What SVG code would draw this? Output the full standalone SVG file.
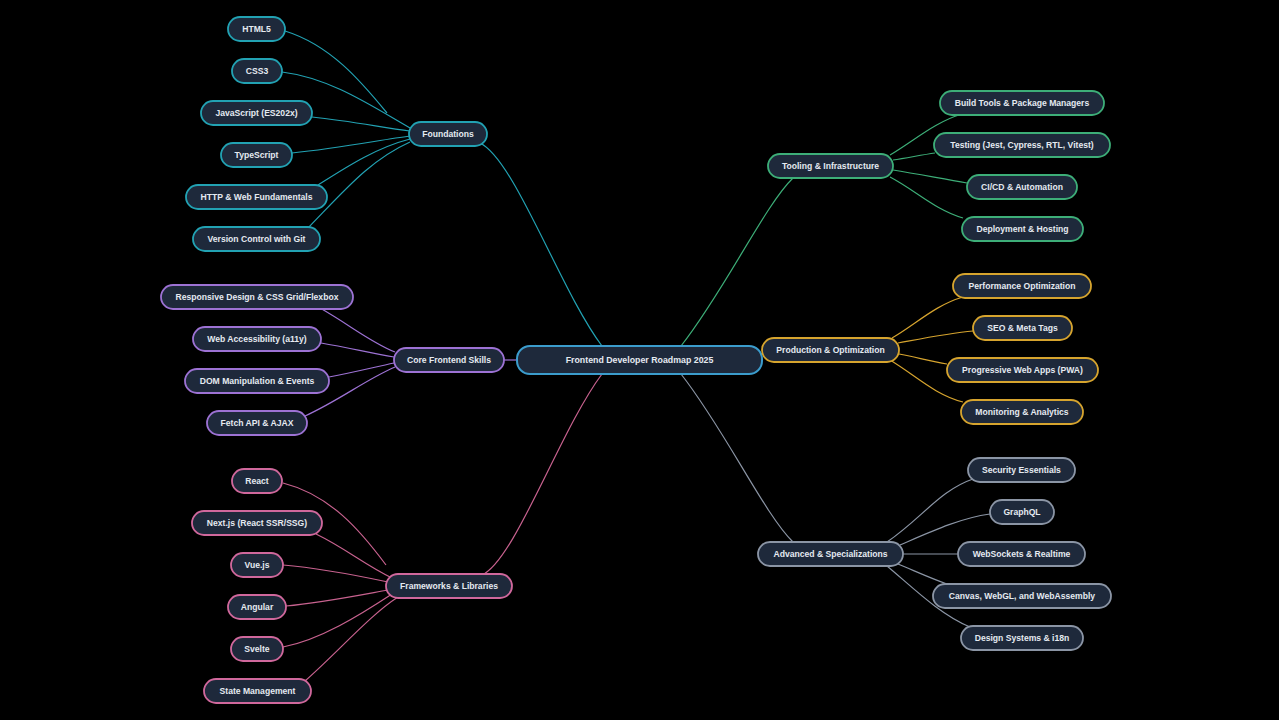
<svg xmlns="http://www.w3.org/2000/svg" width="1279" height="720" viewBox="0 0 1279 720">
<style>
.bg{fill:#000}
.n rect{fill:#1e293b;stroke-width:1.8}
.n text{font-family:"Liberation Sans",Arial,sans-serif;font-size:8.6px;font-weight:bold;fill:#e5eaf1;text-anchor:middle}
.root rect{stroke:#3b9ccc;stroke-width:2}
.root text{font-size:8.8px}
.c1 rect{stroke:#22a2b3}
.c2 rect{stroke:#9d72d4}
.c3 rect{stroke:#d0689c}
.c4 rect{stroke:#3dae78}
.c5 rect{stroke:#d6a42e}
.c6 rect{stroke:#8b95a5}
#connectors path{fill:none;stroke-width:1.2}
.e1{stroke:#22a2b3}
.e2{stroke:#9d72d4}
.e3{stroke:#c8628f}
.e4{stroke:#3dae78}
.e5{stroke:#d6a42e}
.e6{stroke:#8b95a5}
</style>
<rect class="bg" x="0" y="0" width="1279" height="720"/>
<g id="connectors">
<path class="e1" d="M480,143 C515,160 560,290 602,346"/>
<path class="e4" d="M793,178 C765,205 725,290 681,346"/>
<path class="e3" d="M482,575 C515,560 560,430 602,374"/>
<path class="e6" d="M793,542 C765,515 725,430 681,374"/>
<path class="e2" d="M504,360 L517,360"/>
<path class="e5" d="M760,356 L764,352"/>
<path class="e1" d="M285,31 C330,45 360,80 387,113"/>
<path class="e1" d="M282,72 C330,78 370,105 410,128"/>
<path class="e1" d="M312,117 C350,121 380,127 410,131"/>
<path class="e1" d="M292,153 C340,148 380,140 410,136"/>
<path class="e1" d="M318,185 C345,168 375,148 410,139"/>
<path class="e1" d="M308,228 C345,190 370,160 410,142"/>
<path class="e2" d="M320,308 C350,325 370,342 395,352"/>
<path class="e2" d="M321,343 C350,348 370,353 394,357"/>
<path class="e2" d="M329,377 C355,372 375,367 394,363"/>
<path class="e2" d="M305,416 C340,400 365,380 395,367"/>
<path class="e3" d="M283,483 C330,495 360,530 386,565"/>
<path class="e3" d="M316,534 C345,548 365,565 392,578"/>
<path class="e3" d="M283,565 C320,568 355,575 388,582"/>
<path class="e3" d="M286,606 C320,603 355,596 388,590"/>
<path class="e3" d="M283,647 C320,640 360,615 392,594"/>
<path class="e3" d="M305,681 C340,650 370,615 398,597"/>
<path class="e4" d="M890,155 C915,140 935,122 962,114"/>
<path class="e4" d="M893,160 C907,158 921,155 935,153"/>
<path class="e4" d="M893,170 C918,174 943,179 967,183"/>
<path class="e4" d="M890,177 C915,190 935,210 963,218"/>
<path class="e5" d="M892,338 C915,325 935,305 963,297"/>
<path class="e5" d="M898,343 C925,338 950,333 973,331"/>
<path class="e5" d="M899,354 C915,357 930,361 947,364"/>
<path class="e5" d="M890,360 C915,375 935,395 963,402"/>
<path class="e6" d="M887,542 C920,520 940,490 973,479"/>
<path class="e6" d="M900,545 C930,532 960,518 990,514"/>
<path class="e6" d="M903,554 L958,554"/>
<path class="e6" d="M898,564 C915,571 930,578 947,584"/>
<path class="e6" d="M887,566 C910,585 940,615 970,627"/>
</g>
<g id="root" class="n root"><rect x="517" y="346" width="245" height="28" rx="13"/><text x="639.5" y="363">Frontend Developer Roadmap 2025</text></g>
<g id="foundations" class="n c1"><rect x="409" y="122" width="78" height="24" rx="12"/><text x="448" y="137">Foundations</text></g>
<g id="html5" class="n c1"><rect x="228" y="17" width="57" height="24" rx="12"/><text x="256.5" y="32">HTML5</text></g>
<g id="css3" class="n c1"><rect x="232" y="59" width="50" height="24" rx="12"/><text x="257" y="74">CSS3</text></g>
<g id="javascript" class="n c1"><rect x="201" y="101" width="111" height="24" rx="12"/><text x="256.5" y="116">JavaScript (ES202x)</text></g>
<g id="typescript" class="n c1"><rect x="221" y="143" width="71" height="24" rx="12"/><text x="256.5" y="158">TypeScript</text></g>
<g id="http" class="n c1"><rect x="186" y="185" width="141" height="24" rx="12"/><text x="256.5" y="200">HTTP &amp; Web Fundamentals</text></g>
<g id="git" class="n c1"><rect x="193" y="227" width="127" height="24" rx="12"/><text x="256.5" y="242">Version Control with Git</text></g>
<g id="core" class="n c2"><rect x="394" y="348" width="110" height="24" rx="12"/><text x="449" y="363">Core Frontend Skills</text></g>
<g id="responsive" class="n c2"><rect x="161" y="285" width="192" height="24" rx="12"/><text x="257" y="300">Responsive Design &amp; CSS Grid/Flexbox</text></g>
<g id="a11y" class="n c2"><rect x="193" y="327" width="128" height="24" rx="12"/><text x="257" y="342">Web Accessibility (a11y)</text></g>
<g id="dom" class="n c2"><rect x="185" y="369" width="144" height="24" rx="12"/><text x="257" y="384">DOM Manipulation &amp; Events</text></g>
<g id="fetch" class="n c2"><rect x="207" y="411" width="100" height="24" rx="12"/><text x="257" y="426">Fetch API &amp; AJAX</text></g>
<g id="frameworks" class="n c3"><rect x="386" y="574" width="126" height="24" rx="12"/><text x="449" y="589">Frameworks &amp; Libraries</text></g>
<g id="react" class="n c3"><rect x="232" y="469" width="50" height="24" rx="12"/><text x="257" y="484">React</text></g>
<g id="nextjs" class="n c3"><rect x="192" y="511" width="130" height="24" rx="12"/><text x="257" y="526">Next.js (React SSR/SSG)</text></g>
<g id="vue" class="n c3"><rect x="231" y="553" width="52" height="24" rx="12"/><text x="257" y="568">Vue.js</text></g>
<g id="angular" class="n c3"><rect x="228" y="595" width="58" height="24" rx="12"/><text x="257" y="610">Angular</text></g>
<g id="svelte" class="n c3"><rect x="231" y="637" width="52" height="24" rx="12"/><text x="257" y="652">Svelte</text></g>
<g id="state" class="n c3"><rect x="204" y="679" width="107" height="24" rx="12"/><text x="257.5" y="694">State Management</text></g>
<g id="tooling" class="n c4"><rect x="768" y="154" width="125" height="24" rx="12"/><text x="830.5" y="169">Tooling &amp; Infrastructure</text></g>
<g id="build" class="n c4"><rect x="940" y="91" width="164" height="24" rx="12"/><text x="1022" y="106">Build Tools &amp; Package Managers</text></g>
<g id="testing" class="n c4"><rect x="934" y="133" width="176" height="24" rx="12"/><text x="1022" y="148">Testing (Jest, Cypress, RTL, Vitest)</text></g>
<g id="cicd" class="n c4"><rect x="967" y="175" width="110" height="24" rx="12"/><text x="1022" y="190">CI/CD &amp; Automation</text></g>
<g id="deploy" class="n c4"><rect x="962" y="217" width="121" height="24" rx="12"/><text x="1022.5" y="232">Deployment &amp; Hosting</text></g>
<g id="production" class="n c5"><rect x="762" y="338" width="137" height="24" rx="12"/><text x="830.5" y="353">Production &amp; Optimization</text></g>
<g id="performance" class="n c5"><rect x="953" y="274" width="138" height="24" rx="12"/><text x="1022" y="289">Performance Optimization</text></g>
<g id="seo" class="n c5"><rect x="973" y="316" width="99" height="24" rx="12"/><text x="1022.5" y="331">SEO &amp; Meta Tags</text></g>
<g id="pwa" class="n c5"><rect x="947" y="358" width="151" height="24" rx="12"/><text x="1022.5" y="373">Progressive Web Apps (PWA)</text></g>
<g id="monitoring" class="n c5"><rect x="961" y="400" width="122" height="24" rx="12"/><text x="1022" y="415">Monitoring &amp; Analytics</text></g>
<g id="advanced" class="n c6"><rect x="758" y="542" width="145" height="24" rx="12"/><text x="830.5" y="557">Advanced &amp; Specializations</text></g>
<g id="security" class="n c6"><rect x="968" y="458" width="107" height="24" rx="12"/><text x="1021.5" y="473">Security Essentials</text></g>
<g id="graphql" class="n c6"><rect x="990" y="500" width="64" height="24" rx="12"/><text x="1022" y="515">GraphQL</text></g>
<g id="websockets" class="n c6"><rect x="958" y="542" width="127" height="24" rx="12"/><text x="1021.5" y="557">WebSockets &amp; Realtime</text></g>
<g id="canvas" class="n c6"><rect x="933" y="584" width="178" height="24" rx="12"/><text x="1022" y="599">Canvas, WebGL, and WebAssembly</text></g>
<g id="design" class="n c6"><rect x="961" y="626" width="122" height="24" rx="12"/><text x="1022" y="641">Design Systems &amp; i18n</text></g>
</svg>
